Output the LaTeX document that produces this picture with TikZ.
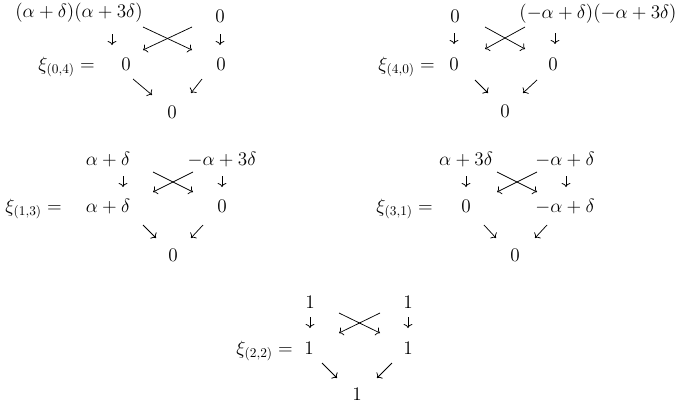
\documentclass[tikz,border=0pt]{standalone}
\usetikzlibrary{arrows.meta}
\tikzset{
  ent/.style={anchor=base, inner sep=0pt, font=\Large},
  arr/.style={line width=0.55pt, -{To[length=3pt,width=6.5pt]}}
}
\begin{document}
\begin{tikzpicture}[x=0.75pt,y=0.75pt,yscale=-1,xscale=1]
\useasboundingbox (0,0) rectangle (685,404);

% Panel xi(0,4)
\node[ent] (a-tl) at (79,17) {$(\alpha+\delta)(\alpha+3\delta)$};
\node[ent] (a-tr) at (220,22) {$0$};
\node[ent,anchor=base east] (a-xi) at (95,70) {$\xi_{(0,4)} =$};
\node[ent] (a-ml) at (126,70) {$0$};
\node[ent] (a-mr) at (221,70) {$0$};
\node[ent] (a-b) at (172,118) {$0$};
\coordinate (a-d1) at (112,34); \coordinate (a-d2) at (112,45);
\coordinate (a-e1) at (220,34); \coordinate (a-e2) at (220,45);
\coordinate (a-x1) at (143,27); \coordinate (a-x2) at (192,50);
\coordinate (a-y1) at (192,27); \coordinate (a-y2) at (143,50);
\coordinate (a-s1) at (133,79); \coordinate (a-s2) at (152,95);
\coordinate (a-w1) at (202,79); \coordinate (a-w2) at (191,93);
\draw[arr] (a-d1) -- (a-d2);
\draw[arr] (a-e1) -- (a-e2);
\draw[arr] (a-x1) -- (a-x2);
\draw[arr] (a-y1) -- (a-y2);
\draw[arr] (a-s1) -- (a-s2);
\draw[arr] (a-w1) -- (a-w2);

% Panel xi(4,0)
\node[ent] (b-tl) at (455,22) {$0$};
\node[ent] (b-tr) at (598,18) {$(-\alpha+\delta)(-\alpha+3\delta)$};
\node[ent,anchor=base east] (b-xi) at (435,70) {$\xi_{(4,0)} =$};
\node[ent] (b-ml) at (454,70) {$0$};
\node[ent] (b-mr) at (553,70) {$0$};
\node[ent] (b-b) at (505,117) {$0$};
\coordinate (b-d1) at (454,33); \coordinate (b-d2) at (454,44);
\coordinate (b-e1) at (555,33); \coordinate (b-e2) at (555,44);
\coordinate (b-x1) at (485,27); \coordinate (b-x2) at (525,49);
\coordinate (b-y1) at (525,27); \coordinate (b-y2) at (485,49);
\coordinate (b-s1) at (475,80); \coordinate (b-s2) at (488,93);
\coordinate (b-w1) at (537,80); \coordinate (b-w2) at (523,93);
\draw[arr] (b-d1) -- (b-d2);
\draw[arr] (b-e1) -- (b-e2);
\draw[arr] (b-x1) -- (b-x2);
\draw[arr] (b-y1) -- (b-y2);
\draw[arr] (b-s1) -- (b-s2);
\draw[arr] (b-w1) -- (b-w2);

% Panel xi(1,3)
\node[ent] (c-tl) at (108,165) {$\alpha+\delta$};
\node[ent] (c-tr) at (222,165) {$-\alpha+3\delta$};
\node[ent,anchor=base east] (c-xi) at (62,212) {$\xi_{(1,3)} =$};
\node[ent] (c-ml) at (108,212) {$\alpha+\delta$};
\node[ent] (c-mr) at (222,212) {$0$};
\node[ent] (c-b) at (173,261) {$0$};
\coordinate (c-d1) at (123,176); \coordinate (c-d2) at (123,187);
\coordinate (c-e1) at (222,176); \coordinate (c-e2) at (222,187);
\coordinate (c-x1) at (153,172); \coordinate (c-x2) at (193,192);
\coordinate (c-y1) at (193,172); \coordinate (c-y2) at (153,192);
\coordinate (c-s1) at (143,225); \coordinate (c-s2) at (156,238);
\coordinate (c-w1) at (203,225); \coordinate (c-w2) at (191,238);
\draw[arr] (c-d1) -- (c-d2);
\draw[arr] (c-e1) -- (c-e2);
\draw[arr] (c-x1) -- (c-x2);
\draw[arr] (c-y1) -- (c-y2);
\draw[arr] (c-s1) -- (c-s2);
\draw[arr] (c-w1) -- (c-w2);

% Panel xi(3,1)
\node[ent] (d-tl) at (466,165) {$\alpha+3\delta$};
\node[ent] (d-tr) at (565,165) {$-\alpha+\delta$};
\node[ent,anchor=base east] (d-xi) at (433,212) {$\xi_{(3,1)} =$};
\node[ent] (d-ml) at (466,212) {$0$};
\node[ent] (d-mr) at (565,212) {$-\alpha+\delta$};
\node[ent] (d-b) at (515,261) {$0$};
\coordinate (d-d1) at (466,176); \coordinate (d-d2) at (466,187);
\coordinate (d-e1) at (566,176); \coordinate (d-e2) at (566,187);
\coordinate (d-x1) at (497,172); \coordinate (d-x2) at (537,192);
\coordinate (d-y1) at (537,172); \coordinate (d-y2) at (497,192);
\coordinate (d-s1) at (484,225); \coordinate (d-s2) at (496,238);
\coordinate (d-w1) at (547,225); \coordinate (d-w2) at (535,238);
\draw[arr] (d-d1) -- (d-d2);
\draw[arr] (d-e1) -- (d-e2);
\draw[arr] (d-x1) -- (d-x2);
\draw[arr] (d-y1) -- (d-y2);
\draw[arr] (d-s1) -- (d-s2);
\draw[arr] (d-w1) -- (d-w2);

% Panel xi(2,2)
\node[ent] (e-tl) at (310,308) {$1$};
\node[ent] (e-tr) at (408,308) {$1$};
\node[ent,anchor=base east] (e-xi) at (293,354) {$\xi_{(2,2)} =$};
\node[ent] (e-ml) at (309,354) {$1$};
\node[ent] (e-mr) at (408,354) {$1$};
\node[ent] (e-b) at (357,400) {$1$};
\coordinate (e-d1) at (310,317); \coordinate (e-d2) at (310,328);
\coordinate (e-e1) at (408,317); \coordinate (e-e2) at (408,328);
\coordinate (e-x1) at (339,313); \coordinate (e-x2) at (380,333);
\coordinate (e-y1) at (380,313); \coordinate (e-y2) at (339,333);
\coordinate (e-s1) at (322,363); \coordinate (e-s2) at (337,378);
\coordinate (e-w1) at (392,363); \coordinate (e-w2) at (377,378);
\draw[arr] (e-d1) -- (e-d2);
\draw[arr] (e-e1) -- (e-e2);
\draw[arr] (e-x1) -- (e-x2);
\draw[arr] (e-y1) -- (e-y2);
\draw[arr] (e-s1) -- (e-s2);
\draw[arr] (e-w1) -- (e-w2);

\end{tikzpicture}
\end{document}
